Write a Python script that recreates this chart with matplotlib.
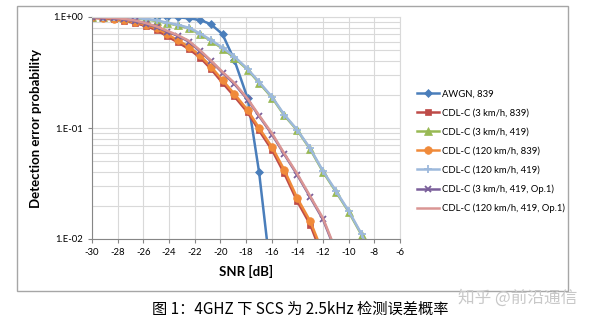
import numpy as np
import matplotlib
matplotlib.use("Agg")
import matplotlib.pyplot as plt
from matplotlib.patches import Rectangle
from matplotlib.ticker import LogLocator, NullFormatter

# SNR points shared by every curve
snr = [-30, -29.16, -28.32, -27.48, -26.64, -25.8, -24.95, -24.14, -23.3, -22.45,
       -21.57, -20.73, -19.83, -18.91, -17.87, -16.98, -15.96, -15.02, -14.0, -13.0,
       -12.0, -11.0, -10.0, -9.0, -8.0]

nan = float("nan")
awgn_839 = [1.0, 1.0, 1.0, 1.0, 1.0, 1.0, 1.0, 1.0, 0.994, 0.973,
            0.94, 0.86, 0.70, 0.41, 0.185, 0.040, 0.0038, nan, nan, nan,
            nan, nan, nan, nan, nan]
cdl_3_839 = [0.98, 0.97, 0.95, 0.92, 0.88, 0.83, 0.76, 0.67, 0.59, 0.515,
             0.43, 0.34, 0.255, 0.193, 0.138, 0.095, 0.063, 0.039, 0.0218, 0.0135,
             0.0068, nan, nan, nan, nan]
cdl_3_419 = [1.0, 1.0, 0.995, 0.985, 0.97, 0.95, 0.92, 0.88, 0.84, 0.79,
             0.70, 0.61, 0.52, 0.43, 0.335, 0.255, 0.187, 0.13, 0.095, 0.0645,
             0.0403, 0.0267, 0.0176, 0.0109, 0.0058]
cdl_120_839 = [0.99, 0.98, 0.965, 0.94, 0.90, 0.85, 0.79, 0.70, 0.615, 0.54,
               0.45, 0.357, 0.27, 0.203, 0.145, 0.10, 0.067, 0.042, 0.0233, 0.0145,
               0.0075, nan, nan, nan, nan]
cdl_120_419 = [1.0, 1.0, 1.0, 0.99, 0.98, 0.96, 0.93, 0.89, 0.85, 0.80,
               0.71, 0.62, 0.53, 0.44, 0.34, 0.26, 0.19, 0.132, 0.096, 0.0655,
               0.041, 0.0272, 0.0179, 0.0111, 0.006]
cdl_3_419_op1 = [0.995, 0.985, 0.975, 0.955, 0.92, 0.87, 0.81, 0.74, 0.675, 0.60,
                 0.49, 0.40, 0.315, 0.25, 0.18, 0.128, 0.087, 0.058, 0.0377, 0.0238,
                 0.0150, 0.0077, nan, nan, nan]
cdl_120_419_op1 = [1.0, 0.99, 0.98, 0.96, 0.93, 0.88, 0.82, 0.75, 0.685, 0.61,
                   0.50, 0.405, 0.32, 0.255, 0.183, 0.13, 0.089, 0.059, 0.0385, 0.0243,
                   0.0154, 0.0079, nan, nan, nan]

series = [
    ("AWGN, 839", awgn_839, "#4A7EBB", "D", 4.5),
    ("CDL-C (3 km/h, 839)", cdl_3_839, "#BE4B48", "s", 5),
    ("CDL-C (3 km/h, 419)", cdl_3_419, "#98B954", "^", 5.5),
    ("CDL-C (120 km/h, 839)", cdl_120_839, "#F08A3A", "o", 5.5),
    ("CDL-C (120 km/h, 419)", cdl_120_419, "#9DB9DC", "+", 6),
    ("CDL-C (3 km/h, 419, Op.1)", cdl_3_419_op1, "#7A5F9A", "x", 5),
    ("CDL-C (120 km/h, 419, Op.1)", cdl_120_419_op1, "#DA9694", None, 0),
]

plt.rcParams['font.family'] = ['Lato', 'DejaVu Sans']
plt.rcParams['axes.unicode_minus'] = False

fig = plt.figure(figsize=(6.0, 3.27), dpi=100)
ax = fig.add_axes([92 / 600, 1 - 239 / 327, 308 / 600, 222 / 327])

for label, vals, color, marker, ms in series:
    ax.plot(snr, vals, color=color, lw=1.8, marker=marker, markersize=ms,
            markeredgewidth=1.3 if marker in ("+", "x") else 0.5,
            markeredgecolor=color, label=label)

ax.set_yscale("log")
ax.set_xlim(-30, -6)
ax.set_ylim(0.01, 1.0)
ax.set_xticks(np.arange(-30, -5, 2))
ax.set_yticks([1.0, 0.1, 0.01])
ax.set_yticklabels(["1.E+00", "1.E-01", "1.E-02"])
ax.yaxis.set_minor_locator(LogLocator(base=10, subs=np.arange(2, 10)))
ax.yaxis.set_minor_formatter(NullFormatter())
ax.grid(True, which="both", color="#D9D9D9", lw=0.8)
ax.set_axisbelow(True)
ax.tick_params(axis="both", which="major", labelsize=6.8, length=3, color="#868686",
               colors="#000000")
ax.tick_params(axis="y", which="minor", length=0)
for s in ["top", "right"]:
    ax.spines[s].set_color("#D9D9D9")
for s in ["left", "bottom"]:
    ax.spines[s].set_color("#868686")

ax.set_xlabel("SNR [dB]", fontsize=9.5, fontweight="bold", labelpad=6)
ax.set_ylabel("Detection error probability", fontsize=9.5, fontweight="bold", labelpad=8)

fig.legend(loc="upper left", bbox_to_anchor=(413 / 600, 1 - 86 / 327), frameon=False,
           fontsize=6.8, handlelength=2.3, handletextpad=0.4, labelspacing=1.05,
           borderaxespad=0)

# chart border
fig.patches.append(Rectangle((17 / 600, 1 - 291 / 327), 551 / 600, 285 / 327,
                             transform=fig.transFigure, fill=False,
                             edgecolor="#A6A6A6", lw=1.0))

fig.text(300 / 600, 1 - 309 / 327, "图 1：4GHZ 下 SCS 为 2.5kHz 检测误差概率",
         ha="center", va="center", fontsize=11,
         family=["Noto Sans CJK SC", "DejaVu Sans"])
fig.text(518 / 600, 1 - 298 / 327, "知乎 @前沿通信", ha="center", va="center",
         fontsize=12, color="#C8C8C8", family=["Noto Sans CJK SC", "DejaVu Sans"])

fig.savefig("out.png", dpi=100)
